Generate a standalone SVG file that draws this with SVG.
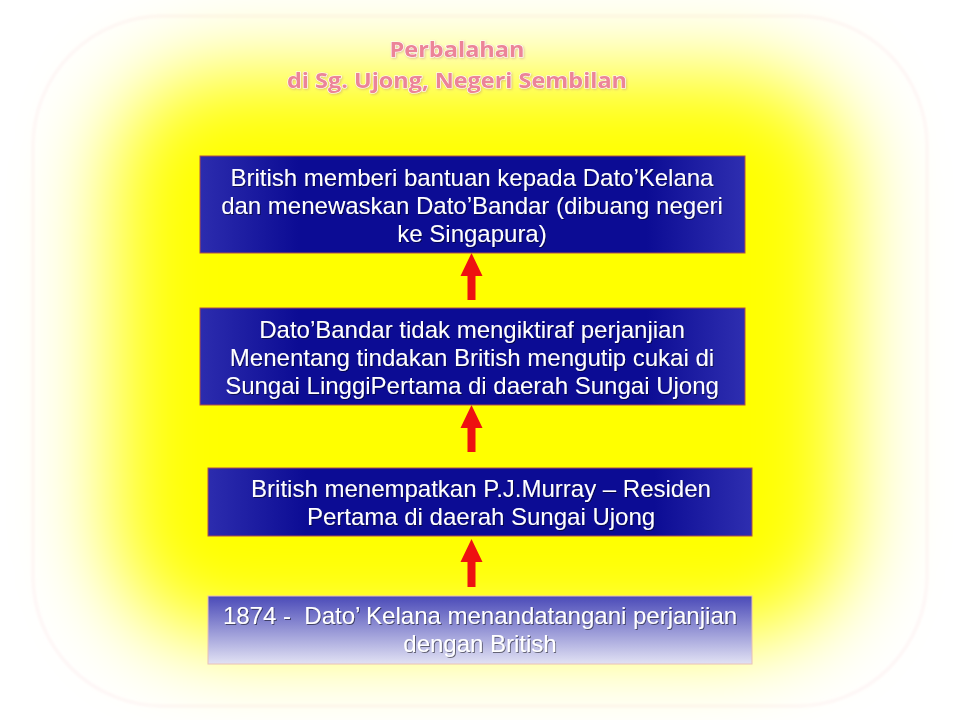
<svg xmlns="http://www.w3.org/2000/svg" width="960" height="720" viewBox="0 0 960 720">
  <defs>
    <filter id="soft" x="-20%" y="-20%" width="140%" height="140%">
      <feGaussianBlur stdDeviation="44"/>
    </filter>
    <filter id="faint" x="-5%" y="-5%" width="110%" height="110%">
      <feGaussianBlur stdDeviation="1.5"/>
    </filter>
    <filter id="tshadow" x="-5%" y="-20%" width="110%" height="140%">
      <feDropShadow dx="1" dy="1" stdDeviation="0.6" flood-color="#000000" flood-opacity="0.5"/>
    </filter>
    <filter id="glow" x="-10%" y="-30%" width="120%" height="160%">
      <feDropShadow dx="1" dy="1" stdDeviation="1" flood-color="#c08080" flood-opacity="0.45"/>
    </filter>
    <linearGradient id="navy" x1="0" y1="0" x2="1" y2="0">
      <stop offset="0" stop-color="#2c2cae"/>
      <stop offset="0.18" stop-color="#0c0c94"/>
      <stop offset="0.82" stop-color="#0c0c94"/>
      <stop offset="1" stop-color="#2e2eb0"/>
    </linearGradient>
    <linearGradient id="fade" x1="0" y1="0" x2="0" y2="1">
      <stop offset="0" stop-color="#4a4ab8"/>
      <stop offset="1" stop-color="#e2e2f4"/>
    </linearGradient>
    <style>
      .box { stroke: #b0504a; stroke-width: 1; }
      .txt { font-family: "Liberation Sans", Arial, sans-serif; font-size: 24px; fill: #ffffff; text-anchor: middle; }
      .title { font-family: "Open Sans", "DejaVu Sans", sans-serif; font-weight: bold; font-size: 21px; fill: #ec8498; stroke: #ffffff; stroke-width: 1.2; paint-order: stroke; text-anchor: middle; }
      .arrow { fill: #ee1111; }
    </style>
  </defs>

  <rect x="0" y="0" width="960" height="720" fill="#ffffff"/>
  <g id="background">
    <rect x="33" y="16" width="894" height="690" rx="130" ry="130" fill="none" stroke="#fdf0f3" stroke-width="2" filter="url(#faint)"/>
    <rect x="112" y="72" width="736" height="566" rx="110" ry="110" fill="#ffff00" filter="url(#soft)"/>
  </g>

  <g id="title" filter="url(#glow)">
    <text class="title" x="457" y="57" textLength="135" lengthAdjust="spacingAndGlyphs">Perbalahan</text>
    <text class="title" x="457" y="88" textLength="340" lengthAdjust="spacingAndGlyphs">di Sg. Ujong, Negeri Sembilan</text>
  </g>

  <g id="connectors">
    <polygon class="arrow" points="471.5,253 482.5,276 475.5,276 475.5,300 467.5,300 467.5,276 460.5,276"/>
    <polygon class="arrow" points="471.5,405 482.5,428 475.5,428 475.5,452 467.5,452 467.5,428 460.5,428"/>
    <polygon class="arrow" points="471.5,539 482.5,562 475.5,562 475.5,587 467.5,587 467.5,562 460.5,562"/>
  </g>

  <g id="node1">
    <rect class="box" x="200" y="156" width="545" height="97" fill="url(#navy)"/>
    <g filter="url(#tshadow)">
      <text class="txt" x="472" y="186">British memberi bantuan kepada Dato’Kelana</text>
      <text class="txt" x="472" y="214">dan menewaskan Dato’Bandar (dibuang negeri</text>
      <text class="txt" x="472" y="242">ke Singapura)</text>
    </g>
  </g>

  <g id="node2">
    <rect class="box" x="200" y="308" width="545" height="97" fill="url(#navy)"/>
    <g filter="url(#tshadow)">
      <text class="txt" x="472" y="338">Dato’Bandar tidak mengiktiraf perjanjian</text>
      <text class="txt" x="472" y="366">Menentang tindakan British mengutip cukai di</text>
      <text class="txt" x="472" y="394">Sungai LinggiPertama di daerah Sungai Ujong</text>
    </g>
  </g>

  <g id="node3">
    <rect class="box" x="208" y="468" width="544" height="68" fill="url(#navy)"/>
    <g filter="url(#tshadow)">
      <text class="txt" x="481" y="497">British menempatkan P.J.Murray – Residen</text>
      <text class="txt" x="481" y="525">Pertama di daerah Sungai Ujong</text>
    </g>
  </g>

  <g id="node4">
    <rect x="208" y="596" width="544" height="68" fill="url(#fade)" stroke="#e8c0b8" stroke-width="1"/>
    <g filter="url(#tshadow)">
      <text class="txt" x="480" y="624" xml:space="preserve">1874 -  Dato’ Kelana menandatangani perjanjian</text>
      <text class="txt" x="480" y="652">dengan British</text>
    </g>
  </g>
</svg>
